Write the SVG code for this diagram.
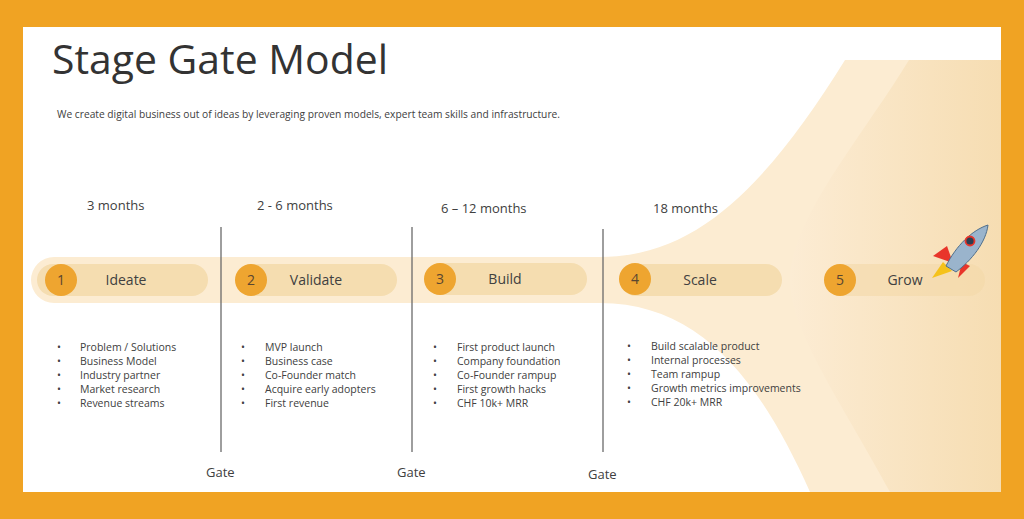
<svg xmlns="http://www.w3.org/2000/svg" width="1024" height="519" viewBox="0 0 1024 519">
<style>
text{font-family:"Open Sans","Noto Sans",sans-serif;fill:#404040}
.m{font-size:13px}
.l{font-size:14px}
.b{font-size:10.5px}
.pill{fill:#f5ddb0}
.c{fill:#eea530}
.n{font-size:14px;fill:#5a4630;text-anchor:middle}
.gate{stroke:#6a6a6a;stroke-width:1.3}
</style>
<defs>
<linearGradient id="g" x1="0" x2="1"><stop offset="0" stop-color="#fcecd4"/><stop offset="1" stop-color="#f6ddb2"/></linearGradient>
</defs>
<rect width="1024" height="519" fill="#f0a323"/>
<rect x="23" y="27" width="978" height="465" fill="#fff"/>
<path d="M845 60 H1001 V492 H810 C760 380 700 303 600 303 H54 A23 23 0 0 1 54 257 H600 C700 257 770 180 845 60Z" fill="#fcecd2"/>
<path d="M909 60 H1001 V492 H890 C840 400 790 330 790 280 C790 220 860 140 909 60Z" fill="url(#g)"/>
<text x="52" y="74" font-size="40" textLength="336" lengthAdjust="spacingAndGlyphs" style="fill:#333">Stage Gate Model</text>
<text x="57" y="118" font-size="10" textLength="503" lengthAdjust="spacingAndGlyphs">We create digital business out of ideas by leveraging proven models, expert team skills and  infrastructure.</text>
<g id="connectors">
<line class="gate" x1="221" y1="227" x2="221" y2="452"/>
<line class="gate" x1="412" y1="227" x2="412" y2="452"/>
<line class="gate" x1="603" y1="229" x2="603" y2="452"/>
</g>
<text class="m" x="87" y="210">3 months</text>
<text class="m" x="257" y="210">2 - 6 months</text>
<text class="m" x="441" y="213">6 – 12 months</text>
<text class="m" x="653" y="213">18 months</text>
<g id="n1"><rect class="pill" x="37" y="264" width="171" height="32" rx="16"/><circle class="c" cx="61" cy="280" r="16"/><text class="n" x="61" y="285">1</text><text class="l" x="126" y="285" text-anchor="middle">Ideate</text></g>
<g id="n2"><rect class="pill" x="237" y="264" width="160" height="32" rx="16"/><circle class="c" cx="251" cy="280" r="16"/><text class="n" x="251" y="285">2</text><text class="l" x="316" y="285" text-anchor="middle">Validate</text></g>
<g id="n3"><rect class="pill" x="425" y="263" width="162" height="32" rx="16"/><circle class="c" cx="440" cy="279" r="16"/><text class="n" x="440" y="284">3</text><text class="l" x="505" y="284" text-anchor="middle">Build</text></g>
<g id="n4"><rect class="pill" x="620" y="264" width="162" height="32" rx="16"/><circle class="c" cx="635" cy="279" r="16"/><text class="n" x="635" y="284">4</text><text class="l" x="700" y="285" text-anchor="middle">Scale</text></g>
<g id="n5"><rect x="825" y="264" width="160" height="32" rx="16" fill="#f3d9a8" opacity="0.6"/><circle class="c" cx="840" cy="280" r="16"/><text class="n" x="840" y="285">5</text><text class="l" x="905" y="285" text-anchor="middle">Grow</text></g>
<g id="rocket">
<path d="M943 262 L932 278 L952 271Z" fill="#f5c21b"/>
<path d="M947 246 L933 256 L953 263Z" fill="#e8352a"/>
<path d="M962 262 L958 278 L970 266Z" fill="#e8352a"/>
<path d="M946 266 C956 246 972 230 988 225 C986 242 972 260 956 272Z" fill="#9ab4cc" stroke="#4f6f8c" stroke-width="1"/>
<circle cx="970" cy="241" r="4.5" fill="#2c3e50" stroke="#e8352a" stroke-width="1.8"/>
</g>
<g class="b">
<g id="list1"><text x="57" y="351">•</text><text x="80" y="351">Problem / Solutions</text><text x="57" y="365">•</text><text x="80" y="365">Business Model</text><text x="57" y="379">•</text><text x="80" y="379">Industry partner</text><text x="57" y="393">•</text><text x="80" y="393">Market research</text><text x="57" y="407">•</text><text x="80" y="407">Revenue streams</text></g>
<g id="list2"><text x="241" y="351">•</text><text x="265" y="351">MVP launch</text><text x="241" y="365">•</text><text x="265" y="365">Business case</text><text x="241" y="379">•</text><text x="265" y="379">Co-Founder match</text><text x="241" y="393">•</text><text x="265" y="393">Acquire early adopters</text><text x="241" y="407">•</text><text x="265" y="407">First revenue</text></g>
<g id="list3"><text x="433" y="351">•</text><text x="457" y="351">First product launch</text><text x="433" y="365">•</text><text x="457" y="365">Company foundation</text><text x="433" y="379">•</text><text x="457" y="379">Co-Founder rampup</text><text x="433" y="393">•</text><text x="457" y="393">First growth hacks</text><text x="433" y="407">•</text><text x="457" y="407">CHF 10k+ MRR</text></g>
<g id="list4"><text x="627" y="350">•</text><text x="651" y="350">Build scalable product</text><text x="627" y="364">•</text><text x="651" y="364">Internal processes</text><text x="627" y="378">•</text><text x="651" y="378">Team rampup</text><text x="627" y="392">•</text><text x="651" y="392">Growth metrics improvements</text><text x="627" y="406">•</text><text x="651" y="406">CHF 20k+ MRR</text></g>
</g>
<text class="m" x="206" y="477">Gate</text>
<text class="m" x="397" y="477">Gate</text>
<text class="m" x="588" y="479">Gate</text>
</svg>
